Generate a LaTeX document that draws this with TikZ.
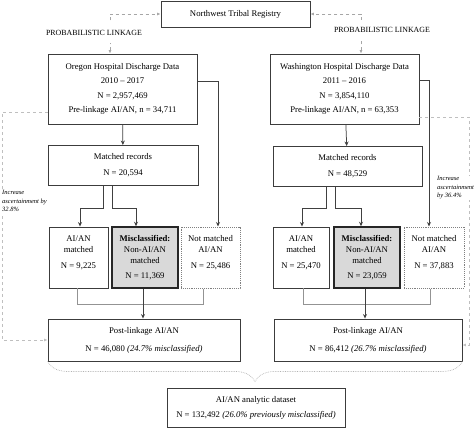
\documentclass[tikz,border=0pt]{standalone}
\usepackage{fontspec}
\setmainfont{Liberation Serif}
\usetikzlibrary{arrows.meta,decorations.pathreplacing}
\definecolor{boxline}{HTML}{3C3C3C}
\definecolor{misfill}{HTML}{D9D9D9}
\tikzset{
  box/.style={draw=boxline, line width=0.9pt, fill=white, align=center, inner sep=0pt,
    font=\fontsize{8.7}{14.5}\selectfont},
  small/.style={box, minimum height=61pt, font=\fontsize{8.7}{11}\selectfont},
  misbox/.style={small, fill=misfill, draw=black!85, line width=1.5pt},
  notbox/.style={small, draw=gray, densely dotted, line width=1pt},
  flow/.style={draw=black!75, line width=0.75pt},
  arr/.style={flow, -{Stealth[length=4.5pt, width=4pt]}},
  bracket/.style={draw=gray!85, line width=0.6pt},
  linkage/.style={draw=gray!70, dashed, line width=0.7pt,
    {Latex[length=3.5pt, width=3pt]}-{Latex[length=3.5pt, width=3pt]}},
  ascert/.style={draw=gray!50, dashed, line width=0.7pt, -{Latex[length=3.5pt, width=3pt]}},
  note/.style={font=\fontsize{6.5}{8.5}\selectfont\itshape, align=left, fill=white, inner sep=1pt},
  caps/.style={font=\fontsize{7.9}{9}\selectfont, fill=white, inner xsep=2pt, inner ysep=7pt}
}
\begin{document}
\begin{tikzpicture}[x=1pt, y=-1pt]
  \useasboundingbox (0,0) rectangle (474,429);

  \node[box, minimum width=149pt, minimum height=26pt] (reg) at (235.5,14) {Northwest Tribal Registry};
  \node[box, minimum width=149pt, minimum height=70pt] (or) at (122.5,89)
    {Oregon Hospital Discharge Data\\2010 -- 2017\\N = 2,957,469\\Pre-linkage AI/AN, n = 34,711};
  \node[box, minimum width=149pt, minimum height=70pt] (wa) at (344.5,89)
    {Washington Hospital Discharge Data\\2011 -- 2016\\N = 3,854,110\\Pre-linkage AI/AN, n = 63,353};

  \node[box, minimum width=150pt, minimum height=40pt] (orm) at (123,165.5) {Matched records\\[1.5pt]N = 20,594};
  \node[box, minimum width=149pt, minimum height=40pt] (wam) at (347.5,166.5) {Matched records\\[1.5pt]N = 48,529};

  \node[small, minimum width=59pt] (ora) at (78.5,257.5) {AI/AN\\matched\\[5pt]N = 9,225\\\mbox{}};
  \node[misbox, minimum width=66pt] (ormis) at (145,257.5) {\textbf{Misclassified:}\\Non-AI/AN\\matched\\[4pt]N = 11,369};
  \node[notbox, minimum width=59pt] (ornot) at (210.5,257.5) {Not matched\\AI/AN\\[5pt]N = 25,486\\\mbox{}};
  \node[small, minimum width=56pt] (waa) at (301,257.5) {AI/AN\\matched\\[5pt]N = 25,470\\\mbox{}};
  \node[misbox, minimum width=66pt] (wamis) at (367,257.5) {\textbf{Misclassified:}\\Non-AI/AN\\matched\\[4pt]N = 23,059};
  \node[notbox, minimum width=60pt] (wanot) at (434,257.5) {Not matched\\AI/AN\\[5pt]N = 37,883\\\mbox{}};

  \node[box, minimum width=192pt, minimum height=42pt] (orpost) at (144,340)
    {Post-linkage AI/AN\\[3.5pt]N = 46,080 \textit{(24.7\% misclassified)}};
  \node[box, minimum width=188pt, minimum height=42pt] (wapost) at (368,340)
    {Post-linkage AI/AN\\[3.5pt]N = 86,412 \textit{(26.7\% misclassified)}};

  \node[box, minimum width=178pt, minimum height=39pt] (all) at (256,407.5)
    {AI/AN analytic dataset\\[0.5pt]N = 132,492 \textit{(26.0\% previously misclassified)}};

  % probabilistic linkage
  \coordinate (orlink) at (110,14);
  \coordinate (walink) at (361,14);
  \draw[linkage] (or.north -| orlink) -- (orlink) -- (reg.west);
  \draw[linkage] (wa.north -| walink) -- (walink) -- (reg.east);
  \node[caps] (orlbl) at (94,33) {PROBABILISTIC LINKAGE};
  \node[caps] (walbl) at (382,30) {PROBABILISTIC LINKAGE};

  \draw[arr] (or) -- (orm);
  \draw[arr] (wa) -- (wam);

  \coordinate (ornotbend) at (218,81);
  \coordinate (wanotbend) at (429,80);
  \draw[arr] ([yshift=8pt]or.east) -- (ornotbend) -- (ornotbend |- ornot.north);
  \draw[arr] ([yshift=9pt]wa.east) -- (wanotbend) -- (wanotbend |- wanot.north);

  \draw[arr] (103,0 |- orm.south) |- (80,208) -- (80,0 |- ora.north);
  \draw[arr] (112,0 |- orm.south) |- (136,208) -- (136,0 |- ormis.north);
  \draw[arr] (326,0 |- wam.south) |- (302,208) -- (302,0 |- waa.north);
  \draw[arr] (335,0 |- wam.south) |- (361,208) -- (361,0 |- wamis.north);

  \draw[bracket] (77,0 |- ora.south) -- (77,304) -- (203,304) -- (203,0 |- ornot.south);
  \draw[bracket] (303,0 |- waa.south) -- (303,304) -- (430,304) -- (430,0 |- wanot.south);
  \draw[arr] (143,0 |- ormis.south) -- (143,0 |- orpost.north);
  \draw[arr] (365,0 |- wamis.south) -- (365,0 |- wapost.north);

  % increase ascertainment
  \coordinate (orasc) at (2,112);
  \coordinate (wasc) at (469,117);
  \draw[ascert] ([yshift=-23pt]or.west) -- (orasc) |- (orpost.west);
  \draw[ascert] ([yshift=-28pt]wa.east) -- (wasc) |- ([yshift=-5pt]wapost.east);
  \node[note, anchor=west] (orasctext) at (1,201) {Increase\\ascertainment by\\32.8\%};
  \node[note, anchor=west] (wasctext) at (436,188) {Increase\\ascertainment\\by 36.4\%};

  \draw[gray!60, densely dotted, line width=0.7pt, decorate, decoration={brace, mirror, amplitude=20pt}]
    (orpost.south west) -- (wapost.south east);
\end{tikzpicture}
\end{document}
